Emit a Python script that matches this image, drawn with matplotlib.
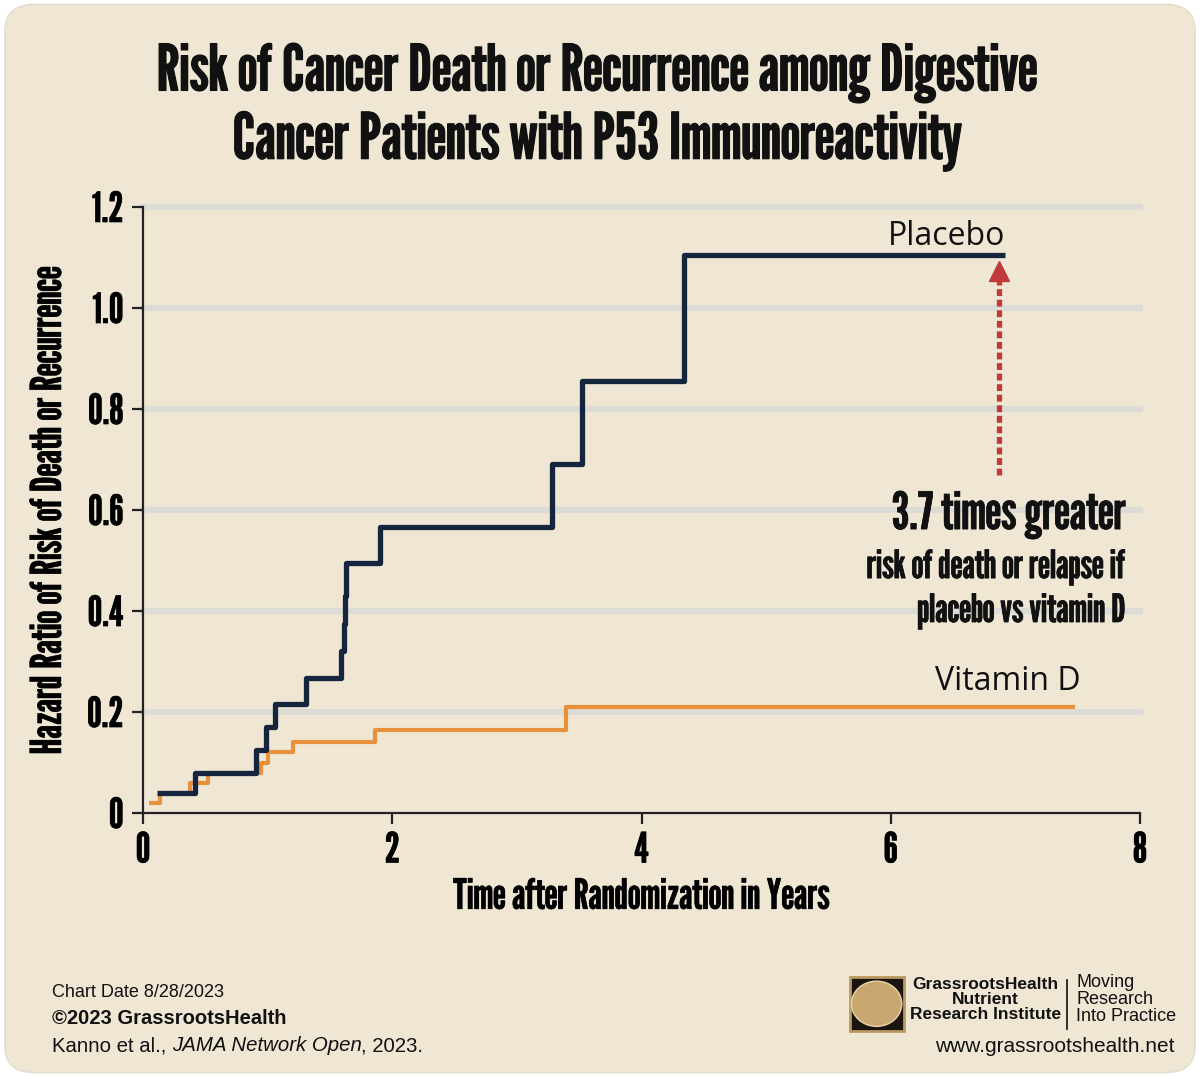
import matplotlib.pyplot as plt
import matplotlib.patheffects as pe
from matplotlib import font_manager
from matplotlib.patches import FancyBboxPatch, Rectangle, Circle

# Kaplan-Meier style step data
placebo_years = [0.11, 0.42, 0.91, 0.99, 1.06, 1.31, 1.59, 1.61, 1.62, 1.63, 1.90, 3.28, 3.52, 4.34, 6.92]
placebo_risk = [0.04, 0.08, 0.125, 0.17, 0.215, 0.267, 0.32, 0.375, 0.43, 0.495, 0.566, 0.692, 0.856, 1.105, 1.105]

vitd_years = [0.05, 0.14, 0.38, 0.52, 0.95, 1.00, 1.20, 1.86, 3.39, 7.48]
vitd_risk = [0.02, 0.04, 0.06, 0.08, 0.10, 0.12, 0.14, 0.164, 0.21, 0.21]

x_ticks = [0, 2, 4, 6, 8]
y_ticks = [0, 0.2, 0.4, 0.6, 0.8, 1.0, 1.2]
y_tick_labels = ["0", "0.2", "0.4", "0.6", "0.8", "1.0", "1.2"]

BG = "#efe6d4"
NAVY = "#14253d"
ORANGE = "#e8913a"
RED = "#c03a3a"
INK = "#111111"

installed = {f.name for f in font_manager.fontManager.ttflist}
cond_name = next((n for n in ["League Gothic", "Oswald", "Antonio", "Archivo Narrow"]
                  if n in installed), "DejaVu Sans")
COND = [cond_name, "DejaVu Sans"]
COND_W = "normal" if cond_name == "League Gothic" else "bold"
SANS = ["Liberation Sans", "DejaVu Sans"]
LABEL = [n for n in ["Open Sans", "DejaVu Sans"] if n in installed] or ["DejaVu Sans"]
BOLDEN = [pe.withStroke(linewidth=0.5, foreground=INK)]

fig = plt.figure(figsize=(12, 10.77), dpi=100)
fig.patch.set_facecolor("white")
fig.patches.append(FancyBboxPatch((0.004, 0.004), 0.992, 0.992,
                                  boxstyle="round,pad=0,rounding_size=0.025",
                                  transform=fig.transFigure, facecolor=BG,
                                  edgecolor="#e2dccd", linewidth=1, zorder=-10))

ax = fig.add_axes([0.1192, 0.2451, 0.8308, 0.5627])
ax.set_facecolor("none")

ax.plot(vitd_years, vitd_risk, drawstyle="steps-post", color=ORANGE, lw=3.0,
        solid_capstyle="butt", zorder=3)
ax.plot(placebo_years, placebo_risk, drawstyle="steps-post", color=NAVY, lw=3.8,
        solid_capstyle="butt", zorder=4)

ax.set_xlim(0, 8)
ax.set_ylim(0, 1.2)
ax.set_xticks(x_ticks)
ax.set_xticklabels([str(t) for t in x_ticks])
ax.set_yticks(y_ticks)
ax.set_yticklabels(y_tick_labels)
for y in y_ticks[1:]:
    ax.axhline(y, color="#dddbd6", lw=4.5, zorder=1, clip_on=False)

for s in ["top", "right"]:
    ax.spines[s].set_visible(False)
for s in ["left", "bottom"]:
    ax.spines[s].set_linewidth(1.6)
    ax.spines[s].set_color("#222222")
ax.tick_params(length=8, width=1.6, color="#222222", pad=6)
for lab in ax.get_xticklabels() + ax.get_yticklabels():
    lab.set_family(COND)
    lab.set_fontweight(COND_W)
    lab.set_fontsize(30)
    lab.set_path_effects(BOLDEN)

ax.set_xlabel("Time after Randomization in Years", family=COND, fontweight=COND_W,
              fontsize=30, labelpad=6, path_effects=BOLDEN)
ax.set_ylabel("Hazard Ratio of Risk of Death or Recurrence", family=COND,
              fontweight=COND_W, fontsize=30.5, labelpad=13, path_effects=BOLDEN)

# Line labels and callout
ax.text(6.92, 1.125, "Placebo", family=LABEL, fontsize=23,
        ha="right", va="baseline", color=INK)
ax.text(7.52, 0.244, "Vitamin D", family=LABEL, fontsize=23,
        ha="right", va="baseline", color=INK)
ax.plot([6.87, 6.87], [0.67, 1.06], color=RED, lw=3.8, linestyle=(0, (1.3, 0.7)),
        dash_capstyle="butt", zorder=5)
ax.plot([6.87], [1.073], marker="^", ms=15, color=RED, zorder=5)
ax.text(7.88, 0.59, "3.7 times greater", family=COND, fontweight=COND_W, fontsize=37,
        ha="right", va="center", color=INK, path_effects=BOLDEN)
ax.text(7.88, 0.487, "risk of death or relapse if", family=COND, fontweight=COND_W,
        fontsize=28, ha="right", va="center", color=INK, path_effects=BOLDEN)
ax.text(7.88, 0.40, "placebo vs vitamin D", family=COND, fontweight=COND_W,
        fontsize=28, ha="right", va="center", color=INK, path_effects=BOLDEN)

# Title
fig.text(0.498, 0.901, "Risk of Cancer Death or Recurrence among Digestive\n"
         "Cancer Patients with P53 Immunoreactivity", family=COND, fontweight=COND_W,
         fontsize=46, ha="center", va="center", linespacing=1.15, color=INK,
         path_effects=[pe.withStroke(linewidth=0.8, foreground=INK)])

# Footer
fig.text(0.043, 0.078, "Chart Date 8/28/2023", family=SANS, fontsize=13,
         va="center", color=INK)
fig.text(0.043, 0.054, "©2023 GrassrootsHealth", family=SANS, fontsize=14.5,
         fontweight="bold", va="center", color=INK)
t1 = fig.text(0.043, 0.029, "Kanno et al., ", family=SANS, fontsize=14.7,
              va="center", color=INK)
fig.canvas.draw()
x2 = t1.get_window_extent().x1 / fig.bbox.width
t2 = fig.text(x2, 0.029, "JAMA Network Open", family=SANS, fontsize=14.7,
              style="italic", va="center", color=INK)
fig.canvas.draw()
x3 = t2.get_window_extent().x1 / fig.bbox.width
fig.text(x3, 0.029, ", 2023.", family=SANS, fontsize=14.7, va="center", color=INK)

# Logo block
fig.patches.append(Rectangle((0.708, 0.043), 0.045, 0.050, transform=fig.transFigure,
                             facecolor="#1a1410", edgecolor="#b89a60", lw=2))
fig.patches.append(Circle((0.7305, 0.068), 0.021, transform=fig.transFigure,
                          facecolor="#c8a870", edgecolor="#e8d5a8", lw=1))
fig.text(0.821, 0.0715, "GrassrootsHealth\nNutrient\nResearch Institute", family=SANS,
         fontsize=12.5, fontweight="bold", ha="center", va="center", linespacing=1.0,
         color=INK)
fig.lines.append(plt.Line2D([0.889, 0.889], [0.045, 0.090], transform=fig.transFigure,
                            color=INK, lw=1.2))
fig.text(0.897, 0.0715, "Moving\nResearch\nInto Practice", family=SANS, fontsize=13,
         ha="left", va="center", linespacing=1.0, color=INK)
fig.text(0.979, 0.028, "www.grassrootshealth.net", family=SANS, fontsize=15,
         ha="right", va="center", color=INK)

fig.savefig("out.png", dpi=100, facecolor=fig.get_facecolor())
